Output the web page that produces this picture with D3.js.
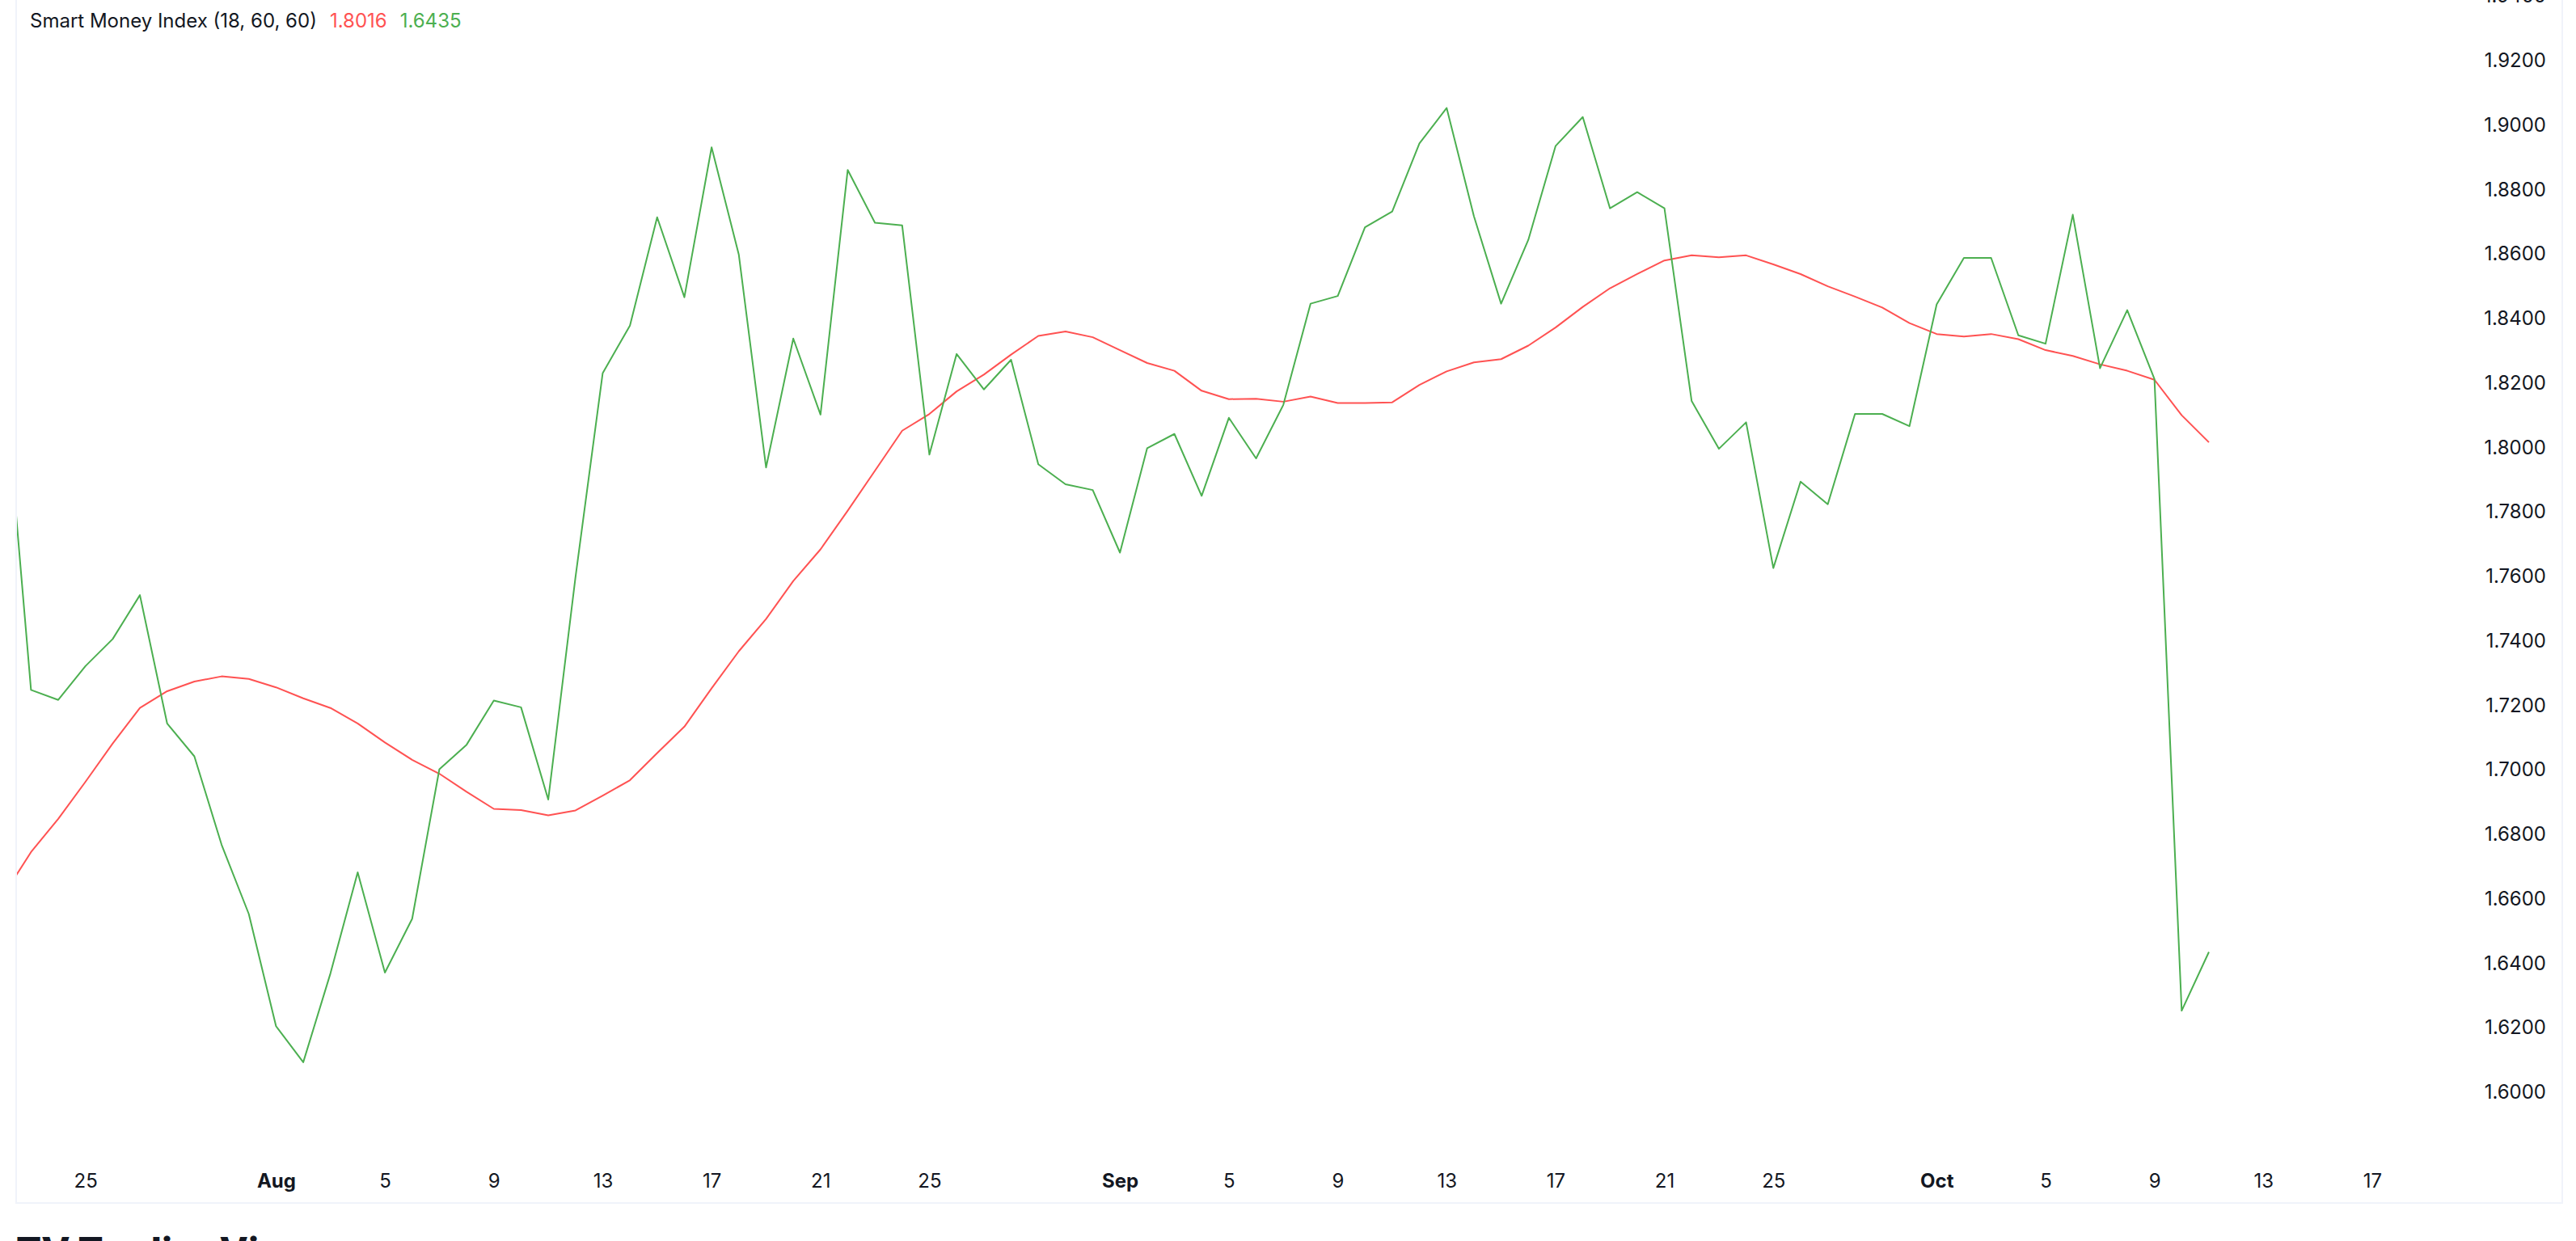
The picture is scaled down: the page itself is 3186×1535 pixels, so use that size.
<!DOCTYPE html>
<html>
<head>
<meta charset="utf-8">
<script src="https://cdn.jsdelivr.net/npm/d3@7"></script>
<style>
  body { margin: 0; background: #fff; }
  svg { display: block; font-family: Inter, "Noto Sans", sans-serif; }
</style>
</head>
<body>
<svg id="chart"></svg>
<script>
// daily values, Jul 22 -> Oct 11
const startDay = "2024-07-22";
const smiValues = [
  1.824, 1.7248, 1.7217, 1.7322, 1.7406, 1.7542, 1.7144, 1.7042, 1.6768, 1.6553,
  1.6205, 1.6093, 1.6369, 1.6682, 1.6371, 1.6538, 1.7002, 1.7078, 1.7215, 1.7194,
  1.6908, 1.7598, 1.8231, 1.8378, 1.8714, 1.8466, 1.8931, 1.8598, 1.7938, 1.8338,
  1.8102, 1.8861, 1.8697, 1.8689, 1.7978, 1.829, 1.818, 1.8272, 1.7948, 1.7886,
  1.7868, 1.7674, 1.7998, 1.8042, 1.785, 1.8092, 1.7966, 1.8132, 1.8446, 1.847,
  1.8683, 1.8732, 1.8943, 1.9053, 1.8718, 1.8446, 1.8644, 1.8935, 1.9025, 1.8742,
  1.8792, 1.8742, 1.8144, 1.7996, 1.8078, 1.7626, 1.7894, 1.7824, 1.8104, 1.8104,
  1.8066, 1.8444, 1.8588, 1.8588, 1.8348, 1.8322, 1.8722, 1.8246, 1.8426, 1.8212,
  1.6253, 1.6435
];
const signalValues = [
  1.6613, 1.6745, 1.6848, 1.6963, 1.7082, 1.7192, 1.7244, 1.7274, 1.729, 1.7282,
  1.7256, 1.7222, 1.7192, 1.7144, 1.7085, 1.7031, 1.6988, 1.6932, 1.6879, 1.6875,
  1.6859, 1.6874, 1.692, 1.6968, 1.7052, 1.7134, 1.7253, 1.7368, 1.7468, 1.7586,
  1.7684, 1.7804, 1.7928, 1.8052, 1.8104, 1.8174, 1.8226, 1.8288, 1.8346, 1.836,
  1.8342, 1.8302, 1.8262, 1.8238, 1.8176, 1.815, 1.8151, 1.8142, 1.8158, 1.8138,
  1.8138, 1.814, 1.8194, 1.8236, 1.8264, 1.8274, 1.8316, 1.8372, 1.8436, 1.8494,
  1.8538, 1.858, 1.8596, 1.859, 1.8596, 1.8568, 1.8538, 1.85, 1.8468, 1.8434,
  1.8386, 1.8352, 1.8344, 1.8352, 1.8336, 1.8302, 1.8284, 1.8258, 1.8238, 1.821,
  1.81, 1.8016
];
const xTickDays = [
  "2024-07-25", "2024-08-01", "2024-08-05", "2024-08-09", "2024-08-13", "2024-08-17",
  "2024-08-21", "2024-08-25", "2024-09-01", "2024-09-05", "2024-09-09", "2024-09-13",
  "2024-09-17", "2024-09-21", "2024-09-25", "2024-10-01", "2024-10-05", "2024-10-09",
  "2024-10-13", "2024-10-17"
];
const yTicks = [1.6, 1.62, 1.64, 1.66, 1.68, 1.7, 1.72, 1.74, 1.76, 1.78, 1.8,
  1.82, 1.84, 1.86, 1.88, 1.9, 1.92, 1.94];
const title = "Smart Money Index (18, 60, 60)";

const width = 3186;
const height = 1535;
const panel = { left: 20, right: 3169, bottom: 1488 };
const plotRight = 3040;
const red = "#ff5252";
const green = "#4caf50";

const parse = d3.utcParse("%Y-%m-%d");
const day0 = parse(startDay);
const days = smiValues.map((_, i) => d3.utcDay.offset(day0, i));

const svg = d3.select("#chart").attr("width", width).attr("height", height);
svg.append("rect").attr("width", width).attr("height", height).attr("fill", "#fff");

const x = d3.scaleUtc()
  .domain([parse("2024-07-25"), parse("2024-10-17")])
  .range([105.7, 2934]);

const y = d3.scaleLinear()
  .domain([1.6, 1.92])
  .range([1351, 75]);

// panel border
svg.append("path")
  .attr("d", `M${panel.left},0V${panel.bottom}H${panel.right}V0`)
  .attr("fill", "none")
  .attr("stroke", "#f0f3fa")
  .attr("stroke-width", 2);

svg.append("clipPath").attr("id", "plot-clip")
  .append("rect")
  .attr("x", panel.left + 1).attr("y", 0)
  .attr("width", plotRight - panel.left).attr("height", panel.bottom - 1);

const plot = svg.append("g").attr("clip-path", "url(#plot-clip)");

const line = (vals) => d3.line()
  .x((d, i) => x(days[i]))
  .y((d) => y(d))(vals);

plot.append("path")
  .attr("d", line(signalValues))
  .attr("fill", "none")
  .attr("stroke", red)
  .attr("stroke-width", 2)
  .attr("stroke-linejoin", "round");

plot.append("path")
  .attr("d", line(smiValues))
  .attr("fill", "none")
  .attr("stroke", green)
  .attr("stroke-width", 2)
  .attr("stroke-linejoin", "round");

// x axis
const xAxis = svg.append("g")
  .attr("transform", `translate(0,${1452})`)
  .call(d3.axisBottom(x)
    .tickValues(xTickDays.map(parse))
    .tickSize(0)
    .tickFormat((d) => d.getUTCDate() === 1 ? d3.utcFormat("%b")(d) : d.getUTCDate()));
xAxis.select(".domain").remove();
xAxis.selectAll("text")
  .attr("dy", "0.32em")
  .attr("y", 9)
  .attr("fill", "#131722")
  .attr("font-size", 24)
  .attr("font-family", "Inter, sans-serif")
  .attr("font-weight", (d) => d.getUTCDate() === 1 ? 700 : 400);

// y axis
const yAxis = svg.append("g")
  .attr("transform", `translate(${3149},0)`)
  .call(d3.axisRight(y).tickValues(yTicks).tickSize(0).tickFormat(d3.format(".4f")));
yAxis.select(".domain").remove();
yAxis.selectAll("text")
  .attr("x", 0)
  .attr("text-anchor", "end")
  .attr("fill", "#131722")
  .attr("font-size", 24)
  .attr("font-family", "Inter, sans-serif");

// legend
const legend = svg.append("text")
  .attr("x", 37)
  .attr("y", 34)
  .attr("font-size", 24)
  .attr("fill", "#131722");
legend.append("tspan").text(title);
legend.append("tspan").attr("dx", 16).attr("fill", red)
  .text(d3.format(".4f")(signalValues[signalValues.length - 1]));
legend.append("tspan").attr("dx", 16).attr("fill", green)
  .text(d3.format(".4f")(smiValues[smiValues.length - 1]));

// watermark, cut by the page bottom
svg.append("text")
  .attr("x", 20)
  .attr("y", 1564)
  .attr("font-size", 46)
  .attr("font-weight", 800)
  .attr("fill", "#131722")
  .text("TV TradingView");
</script>
</body>
</html>
